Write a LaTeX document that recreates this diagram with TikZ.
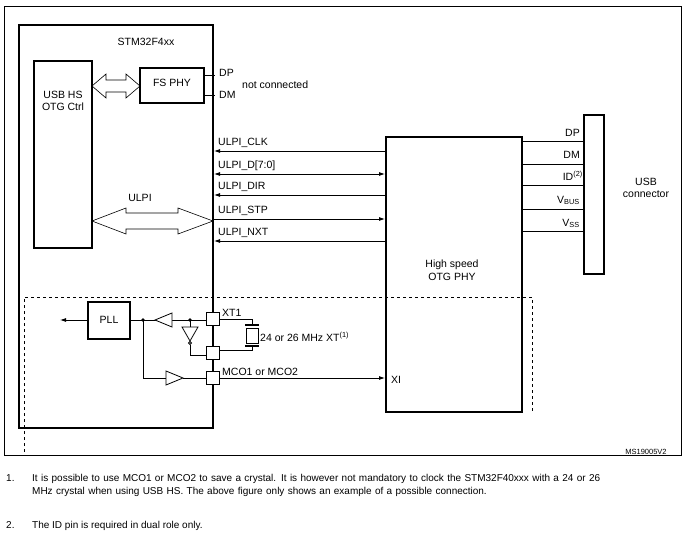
\documentclass[tikz,border=0pt]{standalone}
\usepackage{fontspec}
\setmainfont{Liberation Sans}
\usetikzlibrary{arrows.meta,shapes.geometric}
\begin{document}
\begin{tikzpicture}[x=1pt,y=-1pt,font=\fontsize{10.5}{12.5}\selectfont,
  thick/.style={line width=2pt},
  sig/.style={line width=0.8pt},
  lbl/.style={inner sep=0pt,anchor=south west},
  pin/.style={draw,line width=0.8pt,fill=white,minimum size=13pt,inner sep=0pt},
  tip/.style={-{Latex[length=6pt,width=4pt]}}]
\useasboundingbox (0,0) rectangle (689,549);
\draw[line width=0.6pt] (4,6) rectangle (681,455);
\draw[thick] (19,25) rectangle (213,428);
\node at (146,42) {STM32F4xx};
\draw[thick] (34,61) rectangle (92,248);
\node[align=center] (otg) at (63,101) {USB HS\\OTG Ctrl};
\draw[thick] (140,68) rectangle (204,103);
\node (fs) at (172,83) {FS PHY};
\draw[sig] (204,75) -- (215,75); \draw[sig] (204,95) -- (215,95);
\node[anchor=west,inner sep=0pt] (dp1) at (219,73) {DP};
\node[anchor=west,inner sep=0pt] (dm1) at (219,95) {DM};
\node[anchor=west,inner sep=0pt] (nc) at (242,85) {not connected};
% FS double arrow
\draw[line width=0.6pt] (92,86) -- (106,74) -- (106,80) -- (126,80) -- (126,74) -- (140,86) -- (126,98) -- (126,92) -- (106,92) -- (106,98) -- cycle;
% ULPI big arrow
\draw[line width=0.6pt] (92,221) -- (126,208) -- (126,213) -- (178,213) -- (178,208) -- (213,221) -- (178,234) -- (178,229) -- (126,229) -- (126,234) -- cycle;
\node (ulpi) at (140,198) {ULPI};
% HS PHY
\draw[thick] (386,137) rectangle (522,412);
\node[align=center] (hs) at (452,270) {High speed\\OTG PHY};
\foreach \y/\t/\s in {151/ULPI\_CLK/{Latex[length=6pt,width=4pt]}-,174/ULPI\_D[7:0]/{Latex[length=6pt,width=4pt]}-{Latex[length=6pt,width=4pt]},195/ULPI\_DIR/{Latex[length=6pt,width=4pt]}-,219/ULPI\_STP/-{Latex[length=6pt,width=4pt]},241/ULPI\_NXT/{Latex[length=6pt,width=4pt]}-}{
  \draw[sig,\s] (214,\y) -- (385,\y);
  \node[lbl] at (218,\y-3) {\t};
}
% USB connector
\draw[thick] (584,115) rectangle (604,274);
\node[align=center] (usb) at (646,188) {USB\\connector};
\foreach \y in {141,164,185,209,231}{\draw[sig] (523,\y) -- (583,\y);}
\node[anchor=south east,inner sep=0pt] at (580,137) {DP};
\node[anchor=south east,inner sep=0pt] at (580,159) {DM};
\node[anchor=south east,inner sep=0pt] at (583,181) {ID\textsuperscript{(2)}};
\node[anchor=south east,inner sep=0pt] at (580,205) {V\textsubscript{BUS}};
\node[anchor=south east,inner sep=0pt] at (580,228) {V\textsubscript{SS}};
% dashed region
\draw[dashed,line width=0.6pt] (24,452) -- (24,297) -- (532,297) -- (532,412);
% clock
\draw[thick] (88,302) rectangle (130,339);
\node (pll) at (109,320) {PLL};
\draw[sig,tip] (88,320) -- (60,320);
\draw[sig] (130,320) -- (206,320);
\fill (143,320) circle (1.8pt); \fill (190,320) circle (1.8pt);
\draw[sig,fill=white] (155,320) -- (172,313) -- (172,327) -- cycle;
\draw[sig,fill=white] (190,341) -- (182,327) -- (198,327) -- cycle;
\draw[sig] (190,320) -- (190,327);
\draw[sig,fill=white] (190,343) circle (1.5pt);
\draw[sig] (190,345) -- (190,355) -- (206,355);
\draw[sig] (143,320) -- (143,378) -- (166,378);
\draw[sig,fill=white] (166,371) -- (183,378) -- (166,385) -- cycle;
\draw[sig] (183,378) -- (206,378);
\node[pin] (xt1) at (213,319) {};
\node[pin] (xt2) at (213,353) {};
\node[pin] (mco) at (213,378) {};
\draw[sig] (xt1.east) -- (252,319) -- (252,325);
\draw[line width=2pt] (245,325) -- (259,325);
\draw[sig] (246,328) rectangle (258,343);
\draw[line width=2pt] (245,346) -- (259,346);
\draw[sig] (252,346) -- (252,350) -- (xt2.east |- 0,350);
\draw[sig,tip] (mco.east) -- (385,378);
\node[lbl] at (222,317) {XT1};
\node[anchor=west,inner sep=0pt] at (260,337) {24 or 26 MHz XT\textsuperscript{(1)}};
\node[lbl] at (222,376) {MCO1 or MCO2};
\node[anchor=west,inner sep=0pt] at (391,380) {XI};
\node[font=\fontsize{7.5}{9}\selectfont] at (646,452) {MS19005V2};
% footnotes
\begin{scope}[font=\fontsize{10}{13}\selectfont]
\node[anchor=north west,inner sep=0pt] at (6,474) {1.};
\node[anchor=north west,inner sep=0pt,align=left,text width=590pt] at (32,474) {It is possible to use MCO1 or MCO2 to save a crystal. It is however not mandatory to clock the STM32F40xxx with a 24 or 26 MHz crystal when using USB HS. The above figure only shows an example of a possible connection.};
\node[anchor=north west,inner sep=0pt] at (6,521) {2.};
\node[anchor=north west,inner sep=0pt] at (32,521) {The ID pin is required in dual role only.};
\end{scope}
\end{tikzpicture}
\end{document}
